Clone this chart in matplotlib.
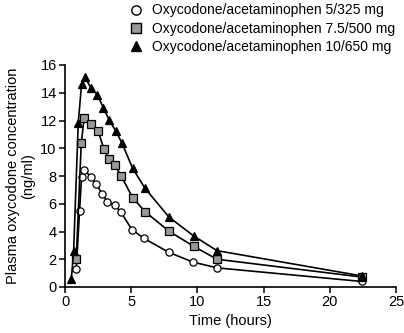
import matplotlib
matplotlib.use("Agg")
import matplotlib.pyplot as plt
from matplotlib.lines import Line2D

plt.rcParams['font.family'] = ['Liberation Sans', 'DejaVu Sans']

labels = ["Oxycodone/acetaminophen 5/325 mg",
          "Oxycodone/acetaminophen 7.5/500 mg",
          "Oxycodone/acetaminophen 10/650 mg"]

t_low = [0.85, 1.1, 1.25, 1.45, 1.95, 2.37, 2.82, 3.2, 3.75, 4.2, 5.05, 5.97, 7.84, 9.65, 11.48, 22.4]
c_low = [1.32, 5.48, 7.95, 8.43, 7.95, 7.4, 6.68, 6.15, 5.91, 5.43, 4.14, 3.5, 2.5, 1.8, 1.38, 0.4]

t_mid = [0.85, 1.23, 1.45, 1.95, 2.5, 2.95, 3.32, 3.75, 4.25, 5.1, 6.03, 7.86, 9.72, 11.48, 22.4]
c_mid = [2.05, 10.4, 12.2, 11.72, 11.24, 9.92, 9.2, 8.79, 8.0, 6.45, 5.44, 4.02, 2.93, 2.0, 0.72]

t_high = [0.48, 0.65, 1.0, 1.25, 1.5, 1.95, 2.45, 2.9, 3.35, 3.85, 4.3, 5.1, 6.03, 7.86, 9.72, 11.48, 22.4]
c_high = [0.6, 2.56, 11.8, 14.6, 15.15, 14.35, 13.85, 12.9, 12.02, 11.22, 10.38, 8.57, 7.13, 5.03, 3.68, 2.62, 0.8]

xticks = [0, 5, 10, 15, 20, 25]
yticks = [0, 2, 4, 6, 8, 10, 12, 14, 16]

fig = plt.figure(figsize=(4.04, 3.33), dpi=100)
ax = fig.add_axes([65/404, 1-287/333, 331/404, 222/333])

styles = [dict(marker='o', mfc='white', mec='black', ms=5.2),
          dict(marker='s', mfc='#999999', mec='black', ms=5.2),
          dict(marker='^', mfc='black', mec='black', ms=5.8)]
series = [(t_low, c_low), (t_mid, c_mid), (t_high, c_high)]
handles = []
for (t, c), st, lab in zip(series, styles, labels):
    ax.plot(t, c, color='black', lw=1.2, mew=0.9, **st, clip_on=False, zorder=3)
    handles.append(Line2D([], [], linestyle='none', mew=1.0,
                          **{**st, 'ms': st['ms'] + 1.5}))

ax.set_xlim(0, 25)
ax.set_ylim(0, 16)
ax.set_xticks(xticks)
ax.set_yticks(yticks)
for s in ['top', 'right']:
    ax.spines[s].set_visible(False)
for s in ['left', 'bottom']:
    ax.spines[s].set_linewidth(1.2)
ax.tick_params(direction='out', length=4, width=1.1, labelsize=10.5, pad=2)
ax.set_xlabel("Time (hours)", fontsize=10.5, labelpad=3)
ax.set_ylabel("Plasma oxycodone concentration\n(ng/ml)", fontsize=10.5, labelpad=4, linespacing=1.1)

fig.legend(handles, labels, loc='upper left', bbox_to_anchor=(128/404, 1 - 2/333),
           frameon=False, fontsize=10.0, handlelength=1.0, handletextpad=0.6,
           labelspacing=0.32, borderaxespad=0.0, borderpad=0.1)

fig.savefig("out.png", dpi=100)
